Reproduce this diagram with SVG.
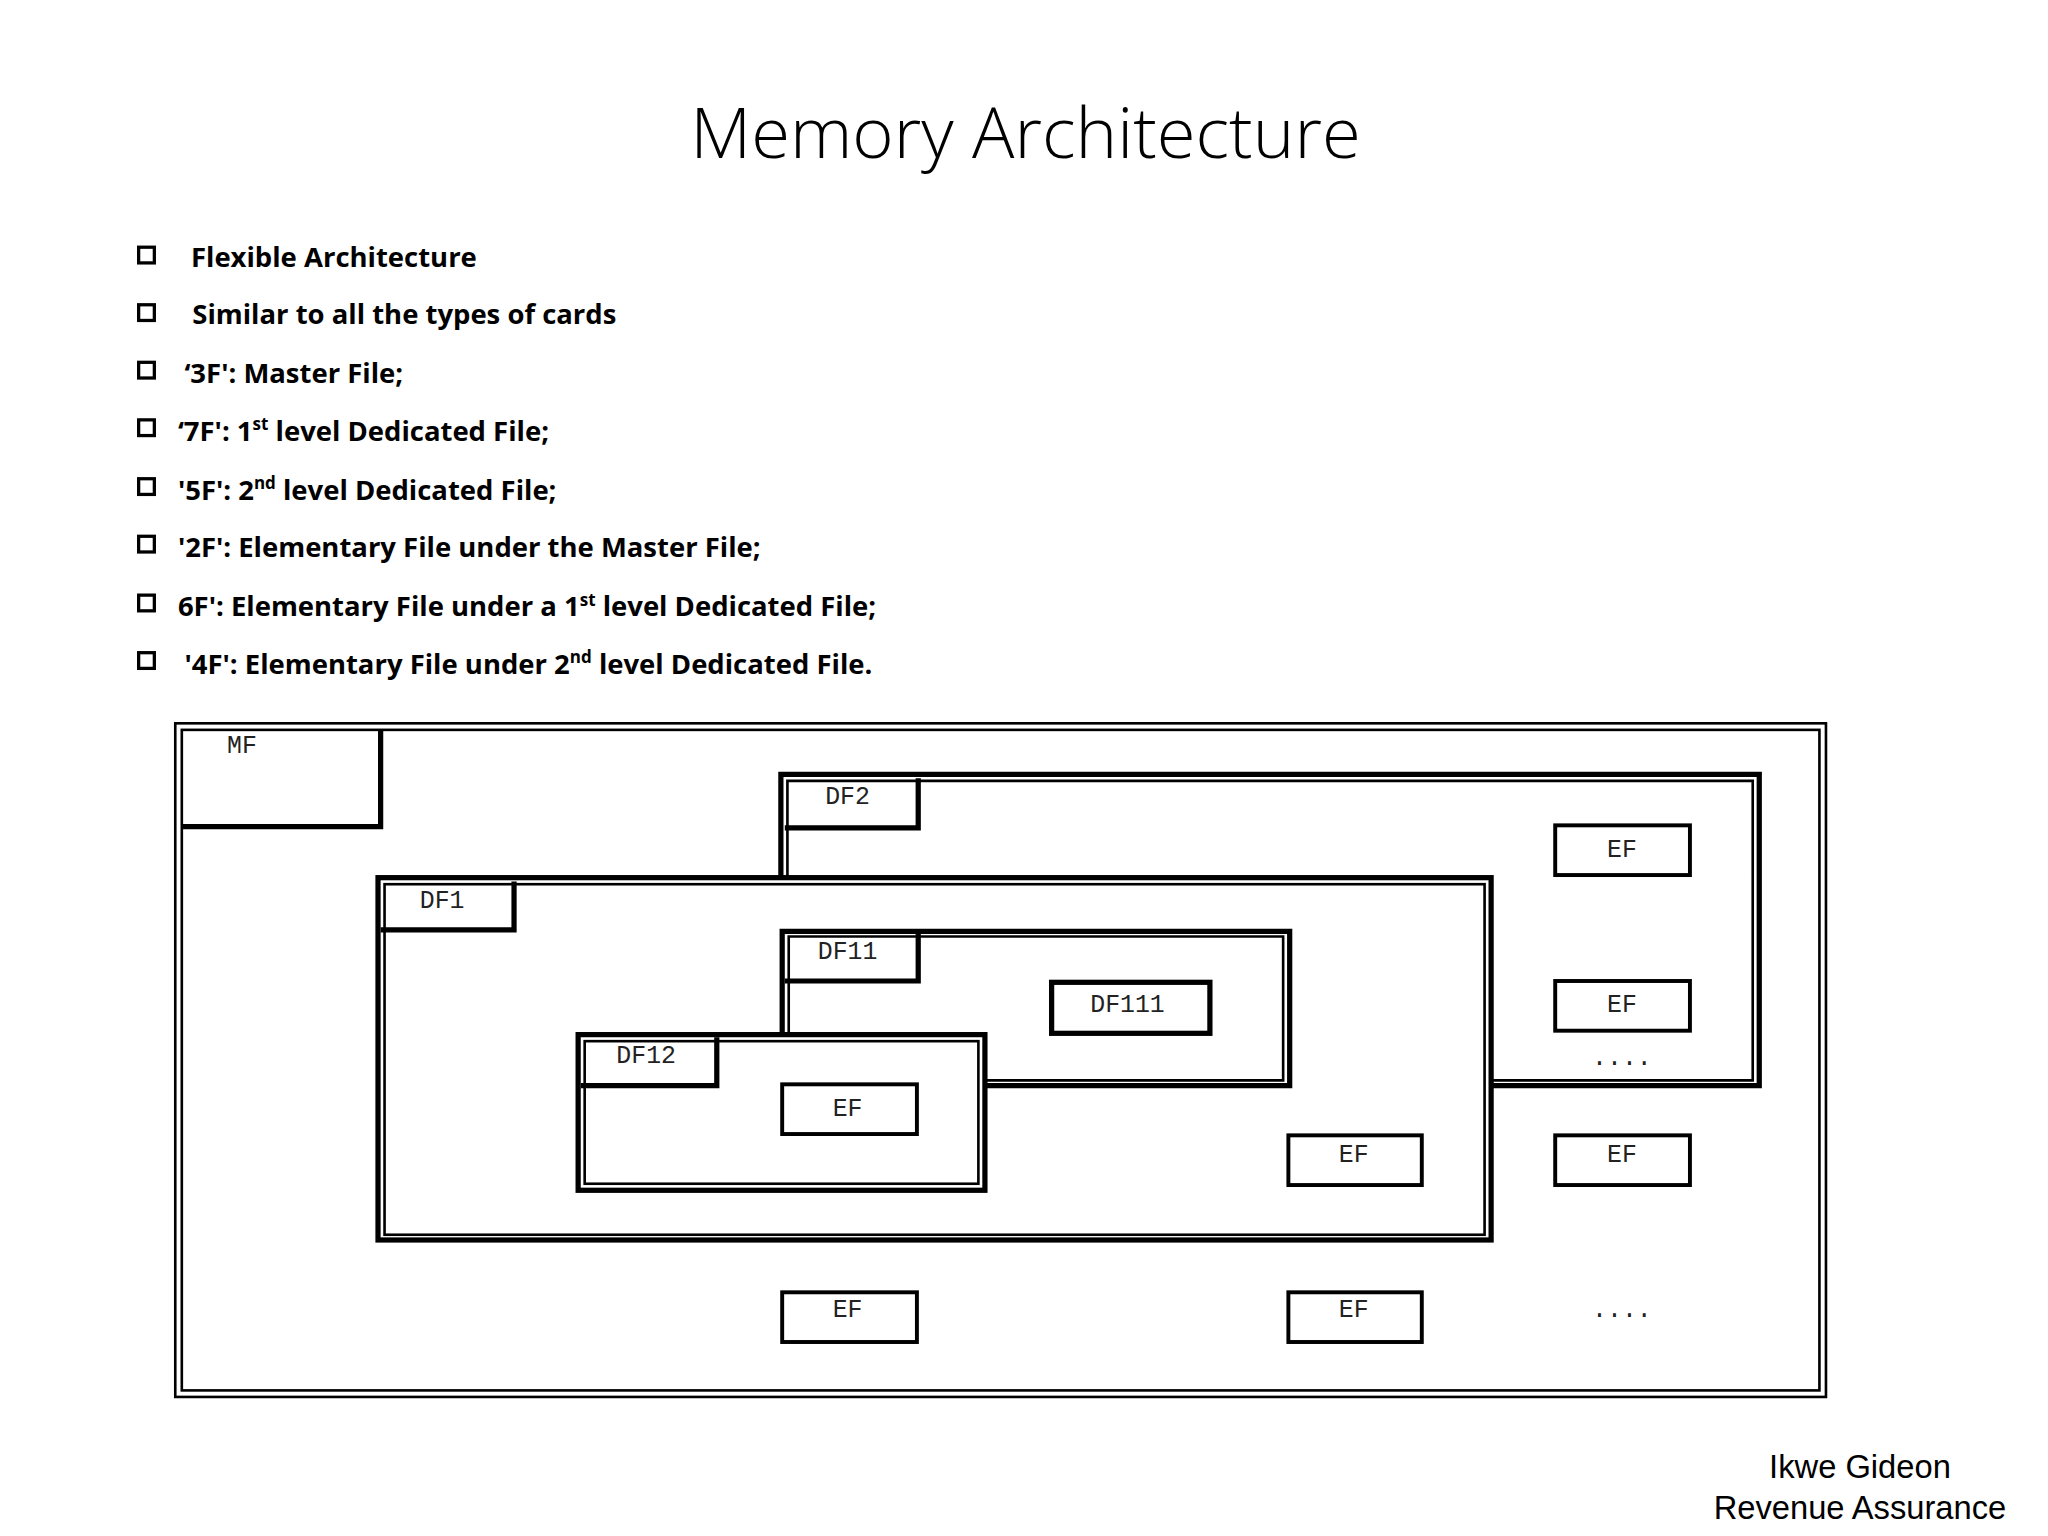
<svg xmlns="http://www.w3.org/2000/svg" width="2048" height="1536" viewBox="0 0 2048 1536">
<style>
.t{font-family:"Open Sans","Liberation Sans",sans-serif;font-weight:bold;font-size:21px;fill:#000}
.b{fill:none;stroke:#000;stroke-width:2}
.k{fill:none;stroke:#000;stroke-width:4}
.m{font-family:"Liberation Mono",monospace;font-size:19px;fill:#222;text-anchor:middle}
.e{fill:#fff;stroke:#000;stroke-width:3}
.q{fill:#fff;stroke:#000;stroke-width:2.5}
</style>
<rect width="2048" height="1536" fill="#fff"/>
<g transform="scale(1.308)">
<text x="784" y="121" font-family="'Open Sans',Lato,sans-serif" font-weight="300" font-size="54" text-anchor="middle">Memory Architecture</text>
<g id="bullets">
<rect x="106" y="189" width="12" height="12" class="q"/><text class="t" x="146" y="204">Flexible Architecture</text>
<rect x="106" y="233" width="12" height="12" class="q"/><text class="t" x="147" y="248">Similar to  all the types of cards</text>
<rect x="106" y="277" width="12" height="12" class="q"/><text class="t" x="141" y="293">‘3F': Master File;</text>
<rect x="106" y="321" width="12" height="12" class="q"/><text class="t" x="136" y="337">‘7F': 1<tspan font-size="13" dy="-8">st</tspan><tspan dy="8">  level Dedicated File;</tspan></text>
<rect x="106" y="366" width="12" height="12" class="q"/><text class="t" x="136" y="382">'5F': 2<tspan font-size="13" dy="-8">nd</tspan><tspan dy="8">  level Dedicated File;</tspan></text>
<rect x="106" y="410" width="12" height="12" class="q"/><text class="t" x="136" y="426">'2F': Elementary File under the Master File;</text>
<rect x="106" y="455" width="12" height="12" class="q"/><text class="t" x="136" y="471">6F': Elementary File under a 1<tspan font-size="13" dy="-8">st</tspan><tspan dy="8">  level Dedicated File;</tspan></text>
<rect x="106" y="499" width="12" height="12" class="q"/><text class="t" x="141" y="515">'4F': Elementary File under 2<tspan font-size="13" dy="-8">nd</tspan><tspan dy="8"> level Dedicated File.</tspan></text>
</g>
<g id="MF">
<rect x="134" y="553" width="1262" height="515" class="b" stroke-width="3"/>
<rect x="139" y="558" width="1252" height="505" class="b" stroke-width="3"/>
<path d="M139 632H291V558" class="k"/>
<text class="m" x="185" y="576">MF</text>
</g>
<g id="DF2">
<path d="M597 670V592H1345V830H1140" class="k"/>
<path d="M602 670V597H1340V826H1140" class="b"/>
<path d="M600 633H702V595" class="k"/>
<text class="m" x="648" y="615">DF2</text>
</g>
<g id="DF1">
<rect x="289" y="671" width="851" height="277" class="k"/>
<rect x="294" y="676" width="841" height="268" class="b"/>
<path d="M291 711H393V674" class="k"/>
<text class="m" x="338" y="694">DF1</text>
</g>
<g id="DF11">
<path d="M598 790V712H986V830H753" class="k"/>
<path d="M603 790V716H981V826H753" class="b"/>
<path d="M600 750H702V714" class="k"/>
<text class="m" x="648" y="733">DF11</text>
</g>
<g id="DF111">
<rect x="804" y="751" width="121" height="39" class="k"/>
<text class="m" x="862" y="774">DF111</text>
</g>
<g id="DF12">
<rect x="442" y="791" width="311" height="119" class="k"/>
<rect x="447" y="796" width="301" height="109" class="b"/>
<path d="M444 830H548V793" class="k"/>
<text class="m" x="494" y="813">DF12</text>
</g>
<g id="EFs">
<rect x="598" y="829" width="103" height="38" class="e"/><text class="m" x="648" y="853">EF</text>
<rect x="1189" y="631" width="103" height="38" class="e"/><text class="m" x="1240" y="655">EF</text>
<rect x="1189" y="750" width="103" height="38" class="e"/><text class="m" x="1240" y="774">EF</text>
<rect x="985" y="868" width="102" height="38" class="e"/><text class="m" x="1035" y="888">EF</text>
<rect x="1189" y="868" width="103" height="38" class="e"/><text class="m" x="1240" y="888">EF</text>
<rect x="598" y="988" width="103" height="38" class="e"/><text class="m" x="648" y="1007">EF</text>
<rect x="985" y="988" width="102" height="38" class="e"/><text class="m" x="1035" y="1007">EF</text>
<text class="m" x="1240" y="814">....</text>
<text class="m" x="1240" y="1007">....</text>
</g>
<text x="1422" y="1130" font-family="'Liberation Sans',Arial,sans-serif" font-size="25" text-anchor="middle">Ikwe Gideon</text>
<text x="1422" y="1161" font-family="'Liberation Sans',Arial,sans-serif" font-size="25" text-anchor="middle">Revenue Assurance</text>
</g>
</svg>
